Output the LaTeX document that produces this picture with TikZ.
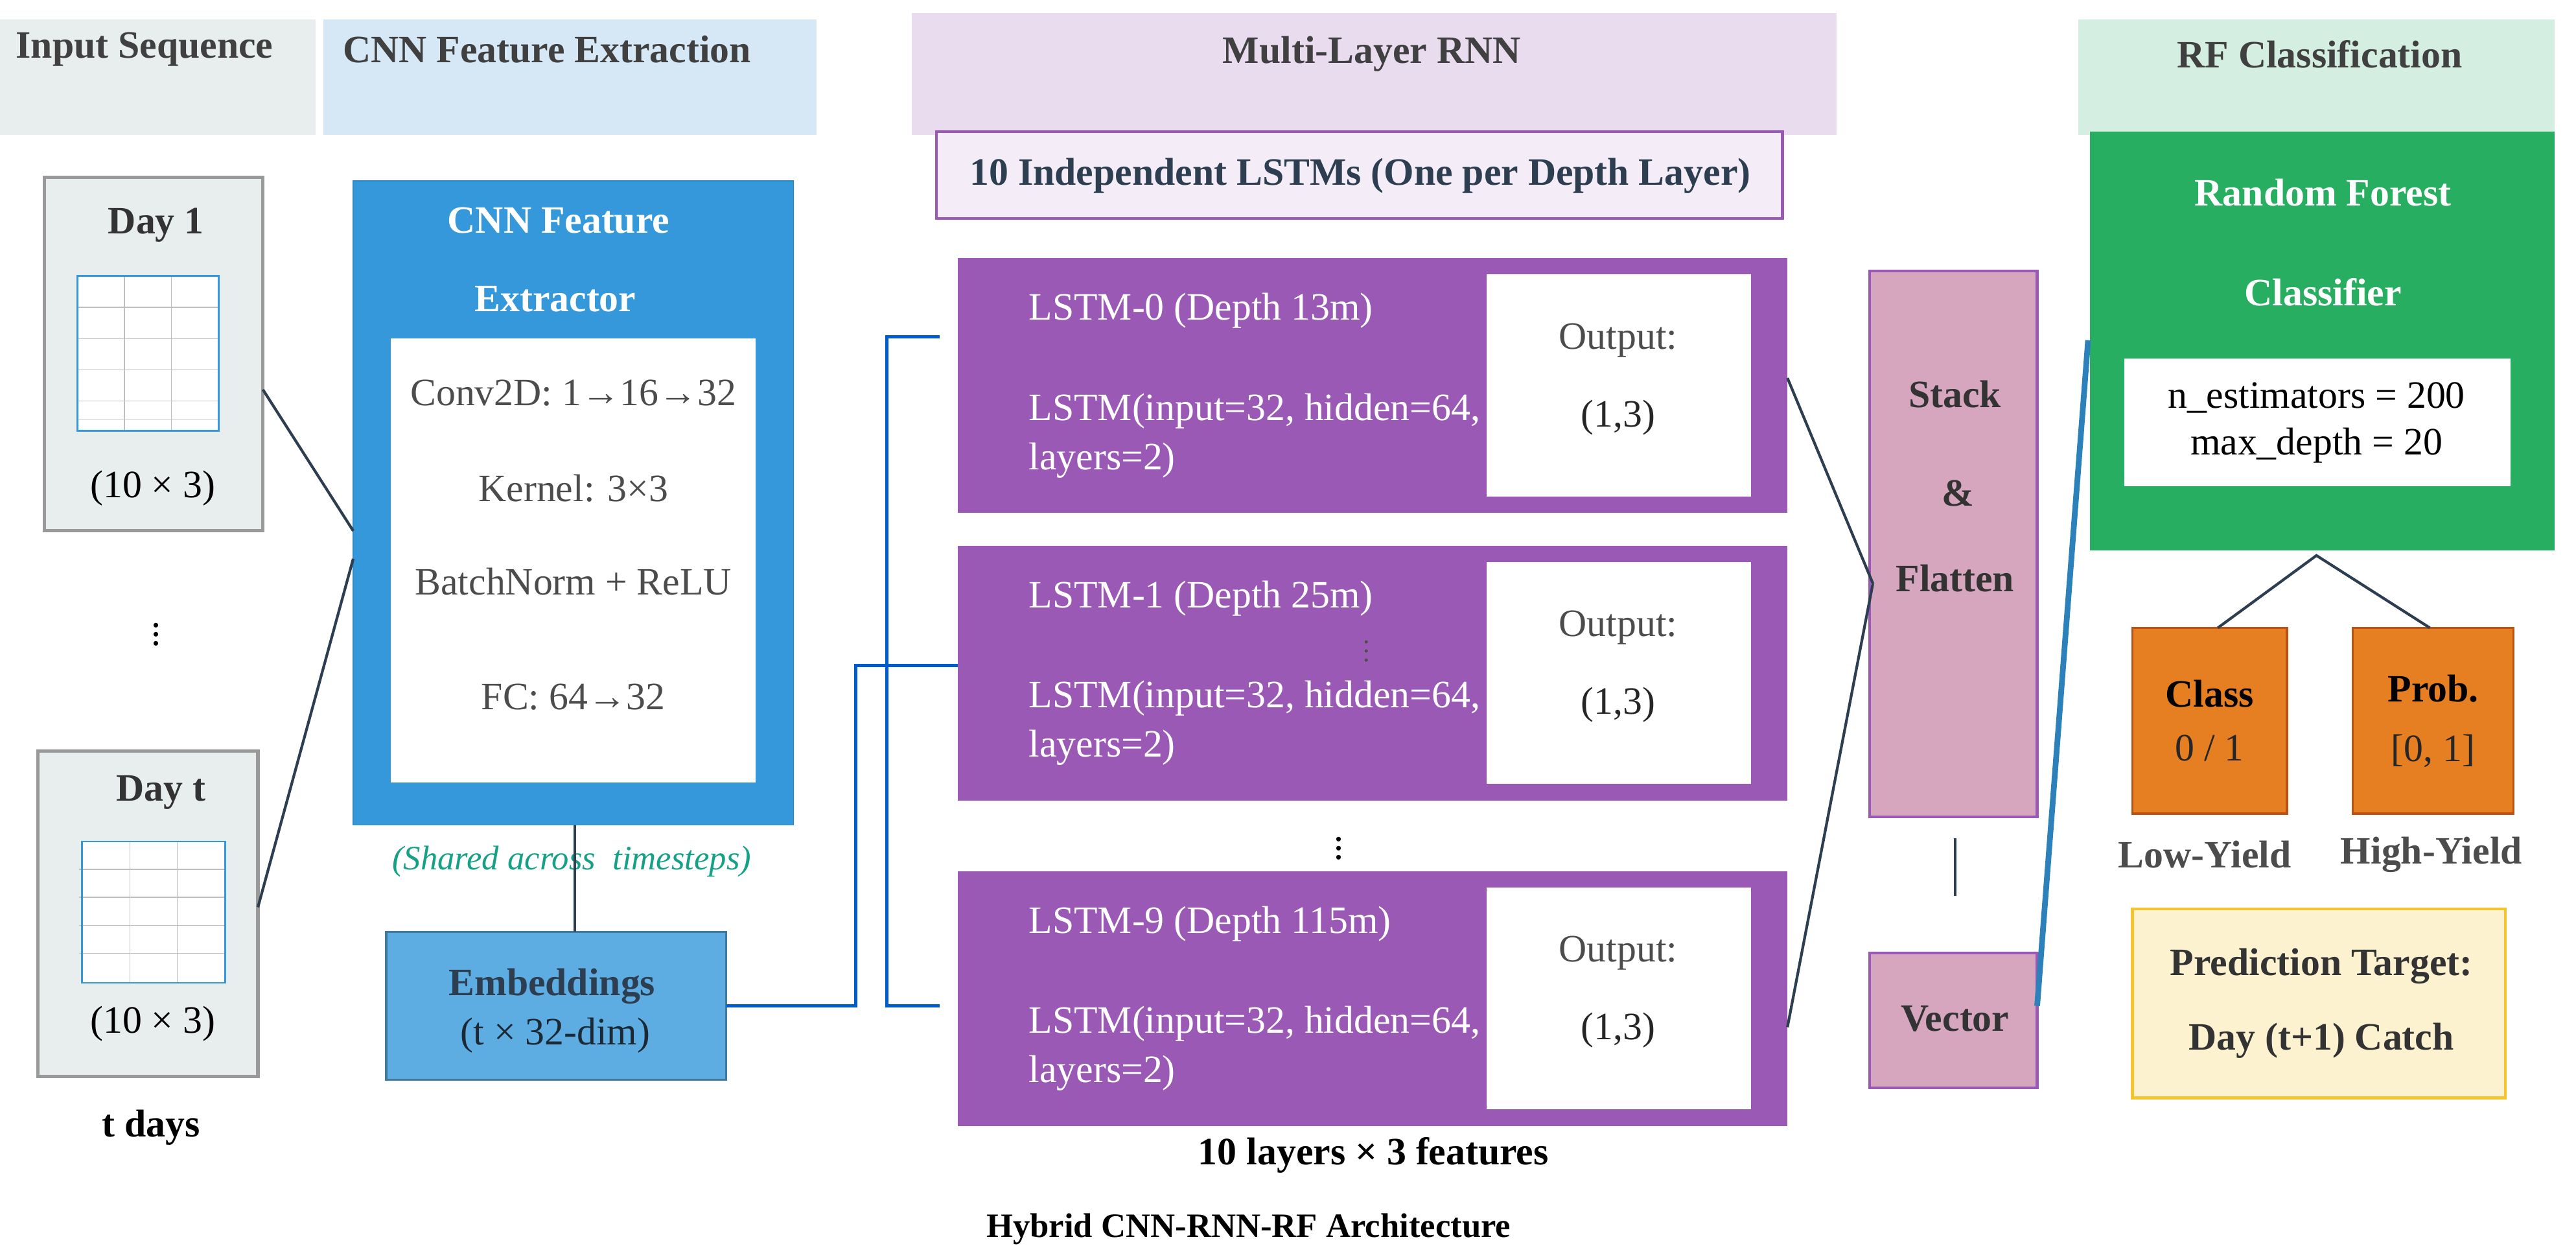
\documentclass[tikz,border=0pt]{standalone}
\usepackage{fontspec}
\setmainfont{Liberation Serif}
\definecolor{lstmc}{HTML}{9B59B6}
\definecolor{cnnc}{HTML}{3498DB}
\definecolor{embc}{HTML}{5DADE2}
\definecolor{pinkc}{HTML}{D5A6BD}
\definecolor{rfc}{HTML}{27AE60}
\definecolor{orc}{HTML}{E67E22}
\definecolor{h1}{HTML}{E8EDED}
\definecolor{h2}{HTML}{D6E8F5}
\definecolor{h3}{HTML}{E9DCEF}
\definecolor{h4}{HTML}{D4EFE2}
\definecolor{teal}{HTML}{16A085}
\definecolor{navy}{HTML}{2C3E50}
\definecolor{navyd}{HTML}{1C2833}
\definecolor{lav}{HTML}{F4ECF7}
\definecolor{cream}{HTML}{FDF2D0}
\definecolor{gold}{HTML}{F4C430}
\begin{document}
\begin{tikzpicture}[x=0.2535mm,y=-0.2535mm,
  every node/.style={inner sep=0pt, font=\fontsize{17}{20}\selectfont},
  hdr/.style={font=\fontsize{17}{20}\selectfont\bfseries, text=black!75},
  dark/.style={draw=navy, line width=1.2pt},
  blu/.style={draw=blue!55!cyan!80!black, line width=1.4pt},
  wt/.style={text=white},
  gt/.style={text=black!70},
  bt/.style={font=\fontsize{17}{20}\selectfont\bfseries, text=black!80}]
\useasboundingbox (0,0) rectangle (1568,765.7);
% headers
\fill[h1] (0,12) rectangle (192,82); \node[hdr] (h1t) at (88,30) {Input Sequence};
\fill[h2] (197,12) rectangle (497,82); \node[hdr] (h2t) at (333,30) {CNN Feature Extraction};
\fill[h3] (555,8) rectangle (1118,82); \node[hdr] (h3t) at (835,33) {Multi-Layer RNN};
\fill[h4] (1265,12) rectangle (1555,82); \node[hdr] (h4t) at (1412,33) {RF Classification};
% input days
\draw[fill=h1, draw=gray!80, line width=1.5pt] (27,108) rectangle (160,323);
\node[bt] at (95,137) {Day 1};
\fill[white] (47,168) rectangle (133,262);
\foreach \x in {75.7,104.3}\draw[black!25] (\x,168)--(\x,262);
\foreach \y in {187,206,225,244,255}\draw[black!25] (47,\y)--(133,\y);
\draw[cnnc, line width=0.8pt] (47,168) rectangle (133,262);
\node (d1) at (93,297) {(10 × 3)};
\coordinate (day1r) at (160,237);
\node at (95,382) {$\vdots$};
\draw[fill=h1, draw=gray!80, line width=1.5pt] (23,457) rectangle (157,655);
\node[bt] at (98,482) {Day t};
\fill[white] (50,512) rectangle (137,598);
\foreach \x in {79,108}\draw[black!25] (\x,512)--(\x,598);
\foreach \y in {529,546,563,580}\draw[black!25] (48,\y)--(137,\y);
\draw[cnnc, line width=0.8pt] (50,512) rectangle (137,598);
\node at (93,623) {(10 × 3)};
\coordinate (daytr) at (157,552);
\node[bt, text=black] at (92,686) {t days};
% CNN
\draw[fill=cnnc, draw=cnnc!90!black] (215,110) rectangle (483,502);
\node[bt, wt] at (340,134) {CNN Feature};
\node[bt, wt] at (338,182) {Extractor};
\fill[white] (238,206) rectangle (460,476);
\node[gt] at (349,239) {Conv2D: 1→16→32};
\node[gt] at (349,297) {Kernel: 3×3};
\node[gt] at (349,354) {BatchNorm + ReLU};
\node[gt] at (349,424) {FC: 64→32};
\coordinate (cnnl1) at (215,323); \coordinate (cnnl2) at (215,340);
\coordinate (cnnb) at (350,502);
\draw[dark] (day1r) -- (cnnl1);
\draw[dark] (daytr) -- (cnnl2);
\node[text=teal, font=\fontsize{15}{18}\selectfont\itshape] at (348,524) {(Shared across\ \ timesteps)};
\draw[draw=embc!70!black, fill=embc, line width=1pt] (235,567) rectangle (442,657);
\node[bt, text=navy] at (336,600) {Embeddings};
\node[text=navyd] at (338,630) {(t × 32-dim)};
\coordinate (embt) at (350,567);
\coordinate (embr) at (442,612);
\draw[dark] (cnnb) -- (embt);
% RNN
\draw[fill=lav, draw=lstmc, line width=1.2pt] (570,80) rectangle (1085,133);
\node[bt, text=navy] at (828,107) {10 Independent LSTMs (One per Depth Layer)};
\foreach \n/\y/\d in {0/157/13m, 1/332/25m, 9/530/115m}{
  \fill[lstmc] (583,\y) rectangle (1088,\y+155);
  \fill[white] (905,\y+10) rectangle (1066,\y+145);
  \node[wt, anchor=west] at (626,\y+32) {LSTM-\n\ (Depth \d)};
  \node[wt, anchor=west] at (626,\y+93) {LSTM(input=32, hidden=64,};
  \node[wt, anchor=west] at (626,\y+123) {layers=2)};
  \node[gt] at (985,\y+50) {Output:};
  \node[text=black!85] at (985,\y+97) {(1,3)};
}
\node[text=black!70, font=\fontsize{12}{14}\selectfont] at (832,392) {$\vdots$};
\node at (815,512) {$\vdots$};
\coordinate (l0r) at (1088,230); \coordinate (l9r) at (1088,625);
\coordinate (l0l) at (572,205); \coordinate (l1l) at (583,405); \coordinate (l9l) at (572,612);
\draw[blu] (embr) -- (521,612) -- (521,405) -- (l1l);
\draw[blu] (l0l) -- (540,205) -- (540,612) -- (l9l);
\node[bt, text=black] at (836,703) {10 layers × 3 features};
\node[bt, text=black, font=\fontsize{15}{18}\selectfont\bfseries] at (760,748) {Hybrid CNN-RNN-RF Architecture};
% stack
\draw[fill=pinkc, draw=lstmc, line width=1.2pt] (1138,165) rectangle (1240,497);
\node[bt] at (1190,240) {Stack};
\node[bt] at (1192,300) {\&};
\node[bt] at (1190,352) {Flatten};
\coordinate (sfl) at (1140,355);
\draw[dark] (l0r) -- (sfl);
\draw[dark] (l9r) -- (sfl);
\draw[dark] (1190,510) -- (1190,545);
\draw[fill=pinkc, draw=lstmc, line width=1.2pt] (1138,580) rectangle (1240,662);
\node[bt] at (1190,620) {Vector};
\coordinate (vr) at (1240,612);
% RF
\fill[rfc] (1272,80) rectangle (1555,335);
\node[bt, wt] at (1414,117) {Random Forest};
\node[bt, wt] at (1414,178) {Classifier};
\fill[white] (1293,218) rectangle (1528,296);
\node[text=black] at (1410,242) {n\_estimators = 200};
\node[text=black] at (1410,271) {max\_depth = 20};
\coordinate (rfl) at (1271,207);
\draw[draw=cnnc!85!black, line width=2.5pt] (vr) -- (rfl);
\coordinate (rfb) at (1410,338);
\draw[fill=orc, draw=orc!80!red!80!black, line width=1pt] (1298,382) rectangle (1392,495);
\draw[fill=orc, draw=orc!80!red!80!black, line width=1pt] (1432,382) rectangle (1530,495);
\draw[dark] (1350,382) -- (rfb) -- (1479,382);
\node[bt, text=black] at (1345,422) {Class};
\node[text=black!85] at (1345,455) {0 / 1};
\node[bt, text=black] at (1481,419) {Prob.};
\node[text=black!85] at (1481,457) {[0, 1]};
\node[bt, text=black!70] at (1342,520) {Low-Yield};
\node[bt, text=black!70] at (1480,520) {High-Yield};
\draw[fill=cream, draw=gold, line width=1.3pt] (1298,553) rectangle (1525,668);
\node[bt] at (1413,588) {Prediction Target:};
\node[bt] at (1413,633) {Day (t+1) Catch};
\end{tikzpicture}
\end{document}
